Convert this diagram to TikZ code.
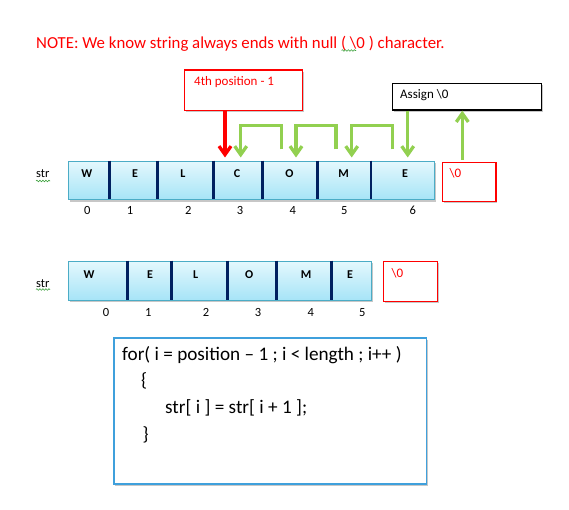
\documentclass[tikz,border=0pt]{standalone}
\usepackage{fontspec}
\setmainfont{Carlito}
\usetikzlibrary{arrows.meta,shadows,decorations.pathmorphing}
\definecolor{gr}{HTML}{92D050}
\definecolor{navy}{HTML}{002060}
\definecolor{arrteal}{HTML}{4BACC6}
\definecolor{cellTop}{HTML}{E4F8FD}
\definecolor{cellBot}{HTML}{A6E4F7}
\definecolor{codeblue}{HTML}{3FA0DC}
\definecolor{squig}{HTML}{3FA33F}
\tikzset{
  shad/.style={drop shadow={shadow xshift=1.5pt,shadow yshift=-1.8pt,opacity=0.22,fill=black}},
  arrbox/.style={draw=arrteal,line width=1pt,top color=cellTop,bottom color=cellBot,shad,anchor=north west,inner sep=0pt},
  divider/.style={navy,line width=2.6pt},
  letter/.style={font=\fontsize{12}{12}\selectfont\bfseries,inner sep=0pt},
  idx/.style={font=\fontsize{12.5}{13}\selectfont,inner sep=0pt},
  strlbl/.style={font=\fontsize{12.5}{13}\selectfont,inner sep=0pt,anchor=base west},
  nullbox/.style={draw=red,line width=1.3pt,fill=white,shad,anchor=north west,inner sep=0pt},
  nulltxt/.style={text=red,font=\fontsize{13}{13}\selectfont,inner sep=0pt,anchor=west},
  labelbox/.style={line width=1.3pt,fill=white,shad,anchor=north west,inner sep=0pt},
  boxtxt/.style={font=\fontsize{13}{13}\selectfont,inner sep=0pt,anchor=west},
  garrow/.style={draw=gr,line width=3.3pt,-{Straight Barb[length=8.5pt,width=12pt]}},
  rarrow/.style={draw=red,line width=3.3pt,-{Straight Barb[length=8.5pt,width=12pt]}},
  squiggle/.style={draw=squig,line width=0.6pt,decorate,decoration={snake,amplitude=0.8pt,segment length=3pt}},
  codetxt/.style={font=\fontsize{19.2}{20}\selectfont,inner sep=0pt,anchor=base west},
}
\begin{document}
\begin{tikzpicture}[x=1pt,y=-1pt]
\useasboundingbox[fill=white] (0,0) rectangle (569,510);

% title
\node[text=red,font=\fontsize{16.8}{20}\selectfont,inner sep=0pt,anchor=base west] (title) at (36,49)
  {NOTE: We know string always ends with null ( \textbackslash0 ) character.};
\coordinate (sq0a) at (341.5,50.5);
\coordinate (sq0b) at (356,50.5);
\draw[squiggle] (sq0a) -- (sq0b);

% label boxes
\node[labelbox,draw=red,minimum width=118pt,minimum height=40.7pt] (pos) at (184,69.3) {};
\node[boxtxt,text=red] (postxt) at (194,81.7) {4th position - 1};
\node[labelbox,draw=black,minimum width=149pt,minimum height=26.6pt] (assign) at (391.7,82.7) {};
\node[boxtxt] (assigntxt) at (400,95.5) {Assign \textbackslash0};

% top array
\node[strlbl] (str1) at (36,178) {str};
\coordinate (sq1a) at (36,181);
\coordinate (sq1b) at (50,181);
\draw[squiggle] (sq1a) -- (sq1b);
\node[arrbox,minimum width=366.3pt,minimum height=38.6pt] (A1) at (68,160.7) {};
\foreach \x in {109.3,157.3,213.3,262.3,317.3,371}
  \draw[divider] (\x,160.7) -- (\x,199.3);
\foreach \l/\x/\n in {W/86.7/0,E/135/1,L/183/2,C/237/3,O/289.5/4,M/343.5/5,E/405/6}
  \node[letter] (t\n) at (\x,173.5) {\l};
\foreach \d/\x in {0/87.3,1/130,2/188.3,3/240,4/292.7,5/344.3,6/412.7}
  \node[idx] (ti\d) at (\x,210.5) {\d};
\node[nullbox,minimum width=53.6pt,minimum height=39.3pt] (N1) at (441.7,161.7) {};
\node[nulltxt] (N1t) at (449.5,173.5) {\textbackslash0};

% bottom array
\node[strlbl] (str2) at (36,287) {str};
\coordinate (sq2a) at (36,289.5);
\coordinate (sq2b) at (50,289.5);
\draw[squiggle] (sq2a) -- (sq2b);
\node[arrbox,minimum width=303.4pt,minimum height=39.3pt] (A2) at (68,260.7) {};
\foreach \x in {127.3,171.7,227.3,276.7,331.7}
  \draw[divider] (\x,260.7) -- (\x,300);
\foreach \l/\x/\n in {W/89/0,E/150/1,L/195.7/2,O/249.3/3,M/306/4,E/350/5}
  \node[letter] (b\n) at (\x,274.3) {\l};
\foreach \d/\x in {0/106,1/148.3,2/206,3/258,4/310.7,5/362.3}
  \node[idx] (bi\d) at (\x,312.7) {\d};
\node[nullbox,minimum width=54pt,minimum height=40pt] (N2) at (382.7,260.7) {};
\node[nulltxt] (N2t) at (391.5,273.3) {\textbackslash0};

% arrows
\coordinate (rEnd) at (225,157.5);
\draw[rarrow] (pos.south -| rEnd) -- (rEnd);
\coordinate (g1s) at (281.7,149.3);
\coordinate (g1e) at (240.7,157.5);
\draw[garrow] (g1s) -- ++(0,-23.6) -| (g1e);
\coordinate (g2s) at (336,149.3);
\coordinate (g2e) at (296,157.5);
\draw[garrow] (g2s) -- ++(0,-23.6) -| (g2e);
\coordinate (g3s) at (392.5,149.3);
\coordinate (g3e) at (351.7,157.5);
\draw[garrow] (g3s) -- ++(0,-23.6) -| (g3e);
\coordinate (g4e) at (407.7,157.5);
\draw[garrow] (assign.south -| g4e) -- (g4e);
\coordinate (g5s) at (462.3,160);
\draw[garrow] (g5s) -- (assign.south -| g5s);

% code box
\node[draw=codeblue,line width=1.3pt,fill=white,shad,anchor=north west,inner sep=0pt,
      minimum width=312.4pt,minimum height=146pt] (code) at (113.3,337.3) {};
\node[codetxt] (c1) at (122,360) {for( i = position – 1 ; i < length ; i++ )};
\node[codetxt] (c2) at (141,386.7) {\{};
\node[codetxt] (c3) at (165,413.3) {str[ i ] = str[ i + 1 ];};
\node[codetxt] (c4) at (142.5,440) {\}};
\end{tikzpicture}
\end{document}
